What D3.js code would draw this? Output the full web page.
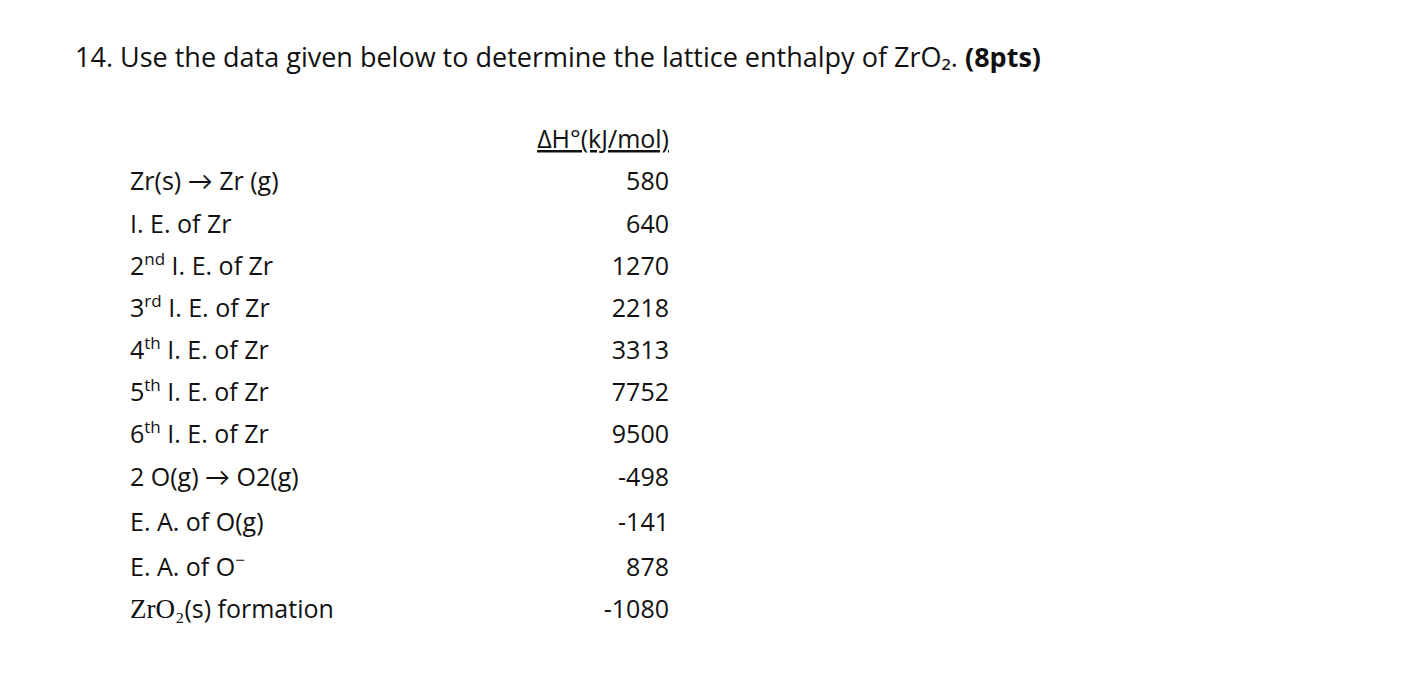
<!DOCTYPE html>
<html><head><meta charset="utf-8">
<script src="https://cdn.jsdelivr.net/npm/d3@7"></script>
<style>body{margin:0;background:#fff}</style>
</head><body>
<svg id="c" width="1418" height="689" style="white-space:pre"></svg>
<script>
// rows of the table: label parts [text, superscript, rest] and value
const labels = [
  ["Zr(s)  \u2192  Zr (g)", "", ""],
  ["I. E. of Zr", "", ""],
  ["2", "nd", " I. E. of Zr"],
  ["3", "rd", " I. E. of Zr"],
  ["4", "th", " I. E. of Zr"],
  ["5", "th", " I. E. of Zr"],
  ["6", "th", " I. E. of Zr"],
  ["2 O(g)  \u2192  O2(g)", "", ""],
  ["E. A. of O(g)", "", ""],
  ["E. A. of O", "\u2212", ""],
  ["ZrO\u2082(s) formation", "", ""]
];
const values = [580, 640, 1270, 2218, 3313, 7752, 9500, -498, -141, 878, -1080];
const baselines = [190, 233, 275, 317, 359, 401, 443, 486, 531, 576, 618];

const svg = d3.select("#c");
const font = "'Open Sans', Lato, sans-serif";

svg.append("text").attr("x", 75).attr("y", 67)
  .attr("font-family", font).attr("font-size", 27).attr("fill", "#111")
  .text("14. Use the data given below to determine the lattice enthalpy of ZrO\u2082.   ")
  .append("tspan").attr("font-weight", "bold").text("(8pts)");

const y = d3.scaleOrdinal().domain(d3.range(values.length)).range(baselines);

svg.append("text").attr("x", 669).attr("y", 148).attr("text-anchor", "end")
  .attr("font-family", font).attr("font-size", 25).attr("fill", "#111")
  .attr("text-decoration", "underline").text("\u0394H\u00b0(kJ/mol)");

const rows = svg.selectAll("g.row").data(values).join("g").attr("class", "row");

rows.append("text").attr("x", 130).attr("y", (d, i) => y(i))
  .attr("font-family", font)
  .attr("font-size", 25).attr("fill", "#111")
  .each(function (d, i) {
    const t = d3.select(this), p = labels[i];
    if (i === 10) {
      t.append("tspan").attr("font-family", "'Liberation Serif', serif").attr("font-size", 27).text("ZrO\u2082");
      t.append("tspan").text("(s) formation");
      return;
    }
    t.append("tspan").text(p[0]);
    if (p[1]) t.append("tspan").attr("dy", -10).attr("font-size", 17).text(p[1]);
    if (p[2]) t.append("tspan").attr("dy", 10).text(p[2]);
  });

rows.append("text").attr("x", 669).attr("y", (d, i) => y(i)).attr("text-anchor", "end")
  .attr("font-family", font).attr("font-size", 25).attr("fill", "#111")
  .text(d => String(d));
</script>
</body></html>
